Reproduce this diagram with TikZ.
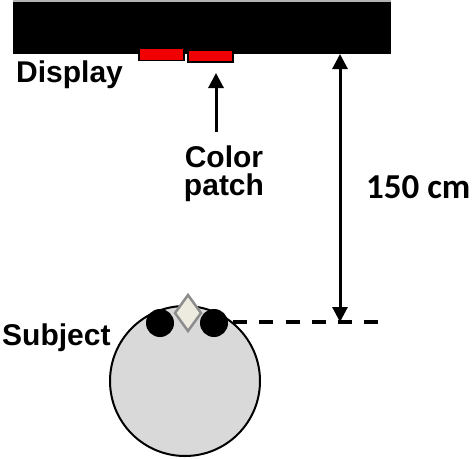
\documentclass[tikz,border=0pt]{standalone}
\usepackage{fontspec}
\setsansfont{Liberation Sans}
\newfontfamily\calibfont{Carlito}
\usetikzlibrary{arrows.meta,positioning}
\definecolor{headgray}{HTML}{D9D9D9}
\definecolor{nosefill}{HTML}{EDEADF}
\definecolor{nosedraw}{HTML}{8C8C8C}
\definecolor{patchred}{HTML}{F00000}
\tikzset{
    %Define standard arrow tip
    >={Triangle[width=15pt,length=15pt]},
    %Define style for labels
    lbl/.style={
           inner sep=0pt,
           font=\sffamily\bfseries\fontsize{30}{28}\selectfont},
    %Define style for the colour patches
    patch/.style={
           rectangle,
           draw=black, line width=1.5pt,
           fill=patchred,
           inner sep=0pt,
           minimum width=45pt,
           minimum height=12pt},
    eye/.style={
           circle,
           fill=black,
           inner sep=0pt,
           minimum size=28pt},
    % Define arrow style
    arr/.style={
           ->,
           line width=3pt},
    dblarr/.style={
           <->,
           line width=3pt},
    dashline/.style={
           line width=3.5pt,
           dash pattern=on 14pt off 12.2pt}
}
\begin{document}
\begin{tikzpicture}[x=1pt,y=-1pt]
  \useasboundingbox (0,0) rectangle (474,458);
  \begin{scope}
  \clip (0,0) rectangle (474,458);
  % display and patches
  \draw[gray!60, line width=1.5pt] (13,0.75) -- (391,0.75);
  \node[rectangle, fill=black, inner sep=0pt, minimum width=378pt,
        minimum height=52pt, anchor=north west] (display) at (13,2) {};
  \node[patch] (patchA) at (161.5,54.5) {};
  \node[patch] (patchB) at (210.5,56) {};
  \node[lbl, anchor=base west] (displaylbl) at (16,82) {Display};
  % colour patch arrow
  \node[lbl, align=center, anchor=north] (colorlbl) at (224,146) {Color\\patch};
  \coordinate (ptail) at (216,132);
  \coordinate (ptip) at (216,73);
  \draw[arr] (ptail) -- (ptip);
  % subject
  \node[circle, draw=black, line width=2pt, fill=headgray, inner sep=0pt,
        minimum size=150pt] (head) at (185,381) {};
  \draw[nosedraw, fill=nosefill, line width=2.5pt]
    (188,295) -- (201,313) -- (188,331) -- (175,313) -- cycle;
  \coordinate (nose) at (188,313);
  \node[eye] (eyeL) at (160,323) {};
  \node[eye] (eyeR) at (214,323) {};
  \node[lbl, anchor=base west] (subjectlbl) at (2,345) {Subject};
  % distance
  \coordinate (dtop) at (340,54);
  \coordinate (dbot) at (340,322);
  \coordinate (dend) at (379,322);
  \draw[dashline] ([xshift=5pt]eyeR.east |- dbot) -- (dend);
  \draw[dblarr] (dtop) -- (dbot);
  \node[inner sep=0pt, anchor=base west,
        font=\calibfont\bfseries\fontsize{35}{35}\selectfont] (distlbl) at (366,198) {150 cm};
  \end{scope}
\end{tikzpicture}
\end{document}
